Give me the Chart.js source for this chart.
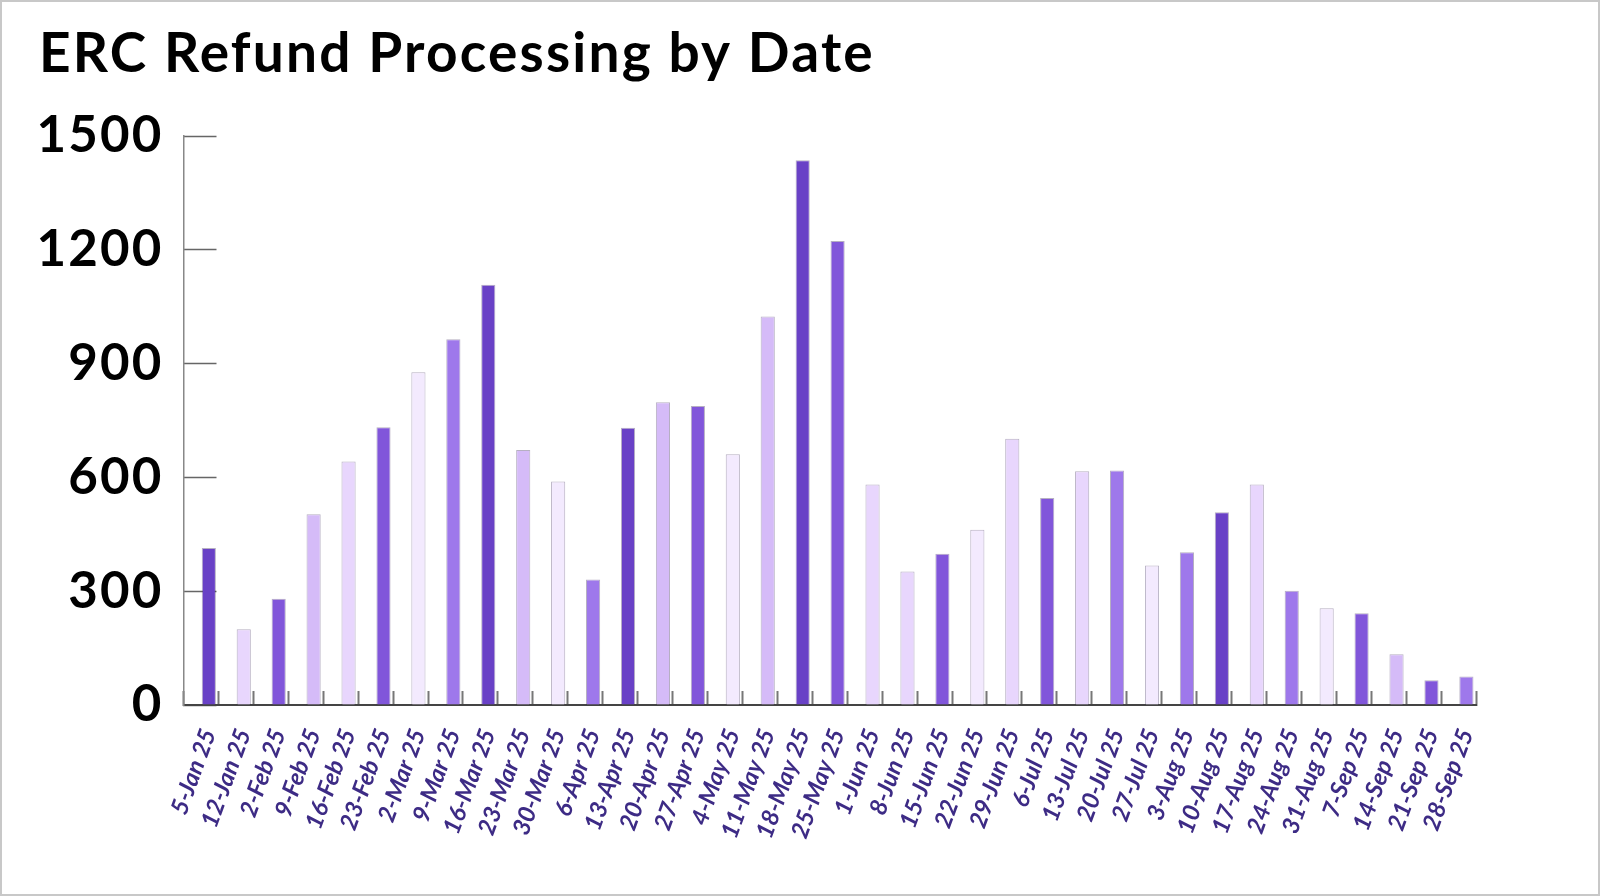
<!DOCTYPE html>
<html>
<head>
<meta charset="utf-8">
<script src="https://cdn.jsdelivr.net/npm/chart.js@4.4.0/dist/chart.umd.min.js"></script>
<style>
  html, body { margin: 0; padding: 0; background: #fff; }
  #wrap { width: 1600px; height: 896px; box-sizing: border-box; border: 2px solid #c8c8c8; }
  canvas { display: block; }
</style>
</head>
<body>
<div id="wrap"><canvas id="myChart" width="1596" height="892"></canvas></div>
<script>
const weeks = ['5-Jan 25', '12-Jan 25', '2-Feb 25', '9-Feb 25', '16-Feb 25', '23-Feb 25',
  '2-Mar 25', '9-Mar 25', '16-Mar 25', '23-Mar 25', '30-Mar 25', '6-Apr 25', '13-Apr 25',
  '20-Apr 25', '27-Apr 25', '4-May 25', '11-May 25', '18-May 25', '25-May 25', '1-Jun 25',
  '8-Jun 25', '15-Jun 25', '22-Jun 25', '29-Jun 25', '6-Jul 25', '13-Jul 25', '20-Jul 25',
  '27-Jul 25', '3-Aug 25', '10-Aug 25', '17-Aug 25', '24-Aug 25', '31-Aug 25', '7-Sep 25',
  '14-Sep 25', '21-Sep 25', '28-Sep 25'];
const refunds = [414, 200, 280, 503, 642, 732, 877, 964, 1108, 672, 589, 331, 731,
  798, 788, 661, 1024, 1436, 1223, 581, 352, 399, 462, 702, 546, 616, 618,
  368, 403, 508, 581, 301, 255, 242, 134, 65, 75];
const yTicks = [0, 300, 600, 900, 1200, 1500];

// shades of purple, one per bar
const D = '#6941c6', M = '#8156da', P = '#9e78eb', L = '#d5bbf8', T = '#e8d6fd', W = '#f3eafe';
const barColors = [D, T, M, L, T, M, W, P, D, L, W, P, D, L, M, W, L, D, M, T, T, M, W, T,
  M, T, P, W, P, D, T, P, W, M, L, M, P];

// title and y labels are spaced a little wider, x labels are not
const spacing = {
    id: 'spacing',
    beforeDraw(c) { c.ctx.letterSpacing = '2.2px'; },
    afterDatasetsDraw(c) { c.ctx.letterSpacing = '0px'; }
};

const ctx = document.getElementById('myChart').getContext('2d');
const chart = new Chart(ctx, {
    type: 'bar',
    data: {
        labels: weeks,
        datasets: [{
            label: 'spacer',
            data: weeks.map(() => null)
        }, {
            label: 'Refunds',
            data: refunds,
            backgroundColor: barColors,
            borderColor: 'rgba(45, 25, 80, 0.35)',
            borderWidth: 1
        }]
    },
    plugins: [spacing],
    options: {
        responsive: false,
        animation: false,
        categoryPercentage: 0.9,
        barPercentage: 0.9,
        layout: { padding: { left: 37, right: 122, top: 0, bottom: 0 } },
        plugins: {
            legend: { display: false },
            tooltip: { enabled: false },
            title: {
                display: true,
                text: 'ERC Refund Processing by Date',
                align: 'start',
                color: '#000',
                font: { family: 'Lato', size: 55, weight: '700' },
                padding: { top: 19, bottom: 49 }
            }
        },
        scales: {
            x: {
                grid: {
                    display: true,
                    offset: true,
                    drawOnChartArea: false,
                    drawTicks: true,
                    tickLength: -14,
                    tickColor: '#777',
                    tickWidth: 2
                },
                border: { display: true, color: '#444', width: 2 },
                ticks: {
                    z: 1,
                    autoSkip: false,
                    minRotation: 70,
                    maxRotation: 70,
                    labelOffset: 8,
                    padding: 34,
                    color: '#3d2b85',
                    font: { family: 'Lato', size: 24, weight: '700', style: 'italic' }
                },
                afterFit: scale => { scale.height = 189; }
            },
            y: {
                min: 0,
                max: 1500,
                afterBuildTicks: scale => { scale.ticks = yTicks.map(v => ({ value: v })); },
                grid: {
                    display: true,
                    drawOnChartArea: false,
                    drawTicks: true,
                    tickLength: -33,
                    tickColor: '#666',
                    tickWidth: 1.5
                },
                border: { display: true, color: '#888', width: 1.5 },
                ticks: {
                    padding: 53,
                    color: '#000',
                    font: { family: 'Lato', size: 51, weight: '700' },
                    callback: v => String(v)
                },
                afterFit: scale => { scale.width = 144.5; }
            }
        }
    }
});
</script>
</body>
</html>
